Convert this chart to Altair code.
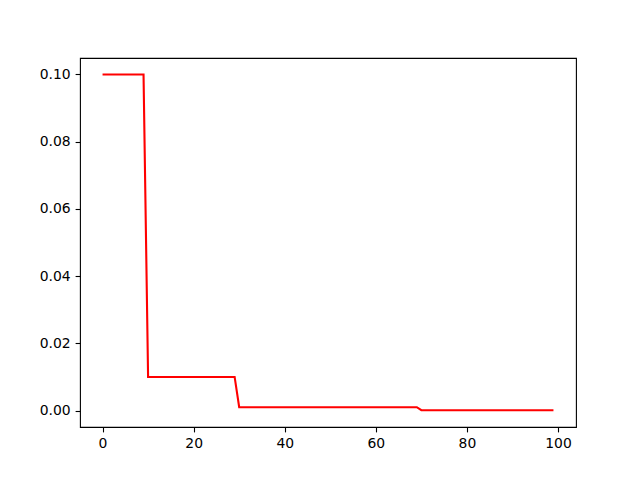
import altair as alt
import pandas as pd

# learning-rate schedule breakpoints (epoch, value)
epochs = [0, 9, 10, 29, 30, 69, 70, 99]
values = [0.1, 0.1, 0.01, 0.01, 0.001, 0.001, 0.0001, 0.0001]

df = pd.DataFrame({"epoch": epochs, "lr": values})

axis_common = dict(
    grid=False,
    domain=False,
    tickColor="black",
    tickSize=4.9,
    tickWidth=1.1,
    labelFont="DejaVu Sans",
    labelFontSize=13.9,
    labelColor="black",
    labelPadding=4.9,
    title=None,
)

chart = (
    alt.Chart(df)
    .mark_line(color="red", strokeWidth=2.1, clip=True)
    .encode(
        x=alt.X(
            "epoch:Q",
            scale=alt.Scale(domain=[-4.95, 103.95], nice=False, zero=False),
            axis=alt.Axis(values=[0, 20, 40, 60, 80, 100], format="d", **axis_common),
        ),
        y=alt.Y(
            "lr:Q",
            scale=alt.Scale(domain=[-0.004895, 0.104895], nice=False, zero=False),
            axis=alt.Axis(values=[0.0, 0.02, 0.04, 0.06, 0.08, 0.10], format=".2f", **axis_common),
        ),
    )
    .properties(
        width=496,
        height=369,
        background="white",
        autosize=alt.AutoSizeParams(type="none"),
        padding={"left": 72, "top": 50, "right": 56, "bottom": 45},
    )
    .configure_view(stroke="black", strokeWidth=1.1)
)

chart.save("out.html", embed_options={"renderer": "svg", "actions": False})
